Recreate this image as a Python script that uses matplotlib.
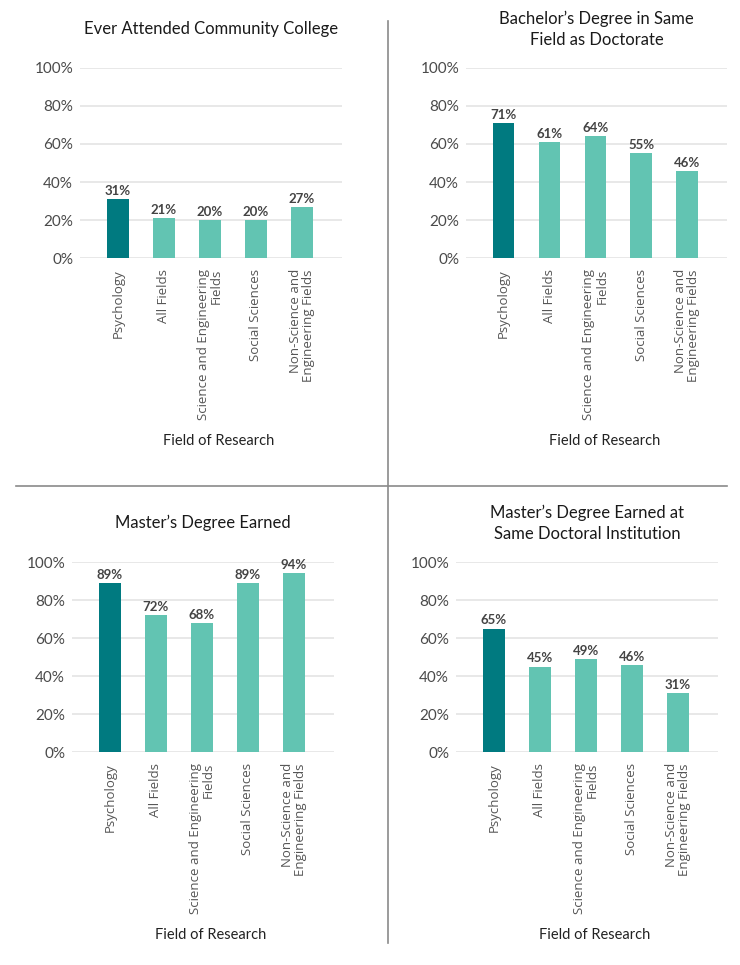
import matplotlib
matplotlib.use("Agg")
import matplotlib.pyplot as plt
from matplotlib.lines import Line2D

plt.rcParams['font.family'] = ['Lato', 'DejaVu Sans']

categories = ["Psychology", "All Fields", "Science and Engineering\nFields",
              "Social Sciences", "Non-Science and\nEngineering Fields"]

titles = ["Ever Attended Community College",
          "Bachelor\u2019s Degree in Same\nField as Doctorate",
          "Master\u2019s Degree Earned",
          "Master\u2019s Degree Earned at\nSame Doctoral Institution"]

community_college = [31, 21, 20, 20, 27]
bachelors_same_field = [71, 61, 64, 55, 46]
masters_earned = [89, 72, 68, 89, 94]
masters_same_institution = [65, 45, 49, 46, 31]

series = [community_college, bachelors_same_field, masters_earned, masters_same_institution]

yticks = [0, 20, 40, 60, 80, 100]
ytick_labels = ["0%", "20%", "40%", "60%", "80%", "100%"]
xlabel = "Field of Research"

DARK = "#007A80"
LIGHT = "#62C4B2"

W, H = 740, 965
fig = plt.figure(figsize=(W / 100, H / 100), dpi=100)

# axes boxes in pixels: left, right, top, bottom
boxes = [(80, 342, 68, 258), (466, 727, 68, 258),
         (72, 334, 562, 752), (456, 718, 562, 752)]

for box, vals, title in zip(boxes, series, titles):
    l, r, t, b = box
    ax = fig.add_axes([l / W, 1 - b / H, (r - l) / W, (b - t) / H])
    x = list(range(len(categories)))
    colors = [DARK] + [LIGHT] * (len(categories) - 1)
    bars = ax.bar(x, vals, width=0.47, color=colors, zorder=3)
    for rect, v in zip(bars, vals):
        ax.annotate(f"{v}%", (rect.get_x() + rect.get_width() / 2, rect.get_height()),
                    xytext=(0, 1.5), textcoords="offset points", ha="center", va="bottom",
                    fontsize=9.5, fontweight="bold", color="#444444")
    ax.set_xlim(-0.82, 4.87)
    ax.set_ylim(0, 100)
    ax.set_yticks(yticks)
    ax.set_yticklabels(ytick_labels, fontsize=11, color="#4a4a4a")
    ax.set_xticks(x)
    ax.set_xticklabels(categories, rotation=90, fontsize=9.5, color="#555555",
                       family=["Open Sans", "DejaVu Sans"],
                       va="top", ha="center", multialignment="right", linespacing=1.05)
    ax.tick_params(axis="both", length=0)
    ax.tick_params(axis="y", pad=5)
    ax.tick_params(axis="x", pad=8)
    ax.grid(axis="y", color="#e6e6e6", linewidth=1.3, zorder=0)
    for s in ax.spines.values():
        s.set_visible(False)
    ax.set_xlabel(xlabel, fontsize=10.5, color="#222222")
    ax.xaxis.set_label_coords(0.53, -0.963)
    ax.xaxis.label.set_va("center")
    ax.text(0.5, 1.205, title, transform=ax.transAxes, ha="center", va="center",
            fontsize=12, color="#1a1a1a", linespacing=1.35)

# dividers
fig.add_artist(Line2D([388 / W, 388 / W], [1 - 21 / H, 1 - 943 / H],
                      transform=fig.transFigure, color="#8a8a8a", linewidth=1.2))
fig.add_artist(Line2D([16 / W, 727 / W], [1 - 486 / H, 1 - 486 / H],
                      transform=fig.transFigure, color="#8a8a8a", linewidth=1.2))

fig.savefig("out.png", dpi=100, facecolor="white")
